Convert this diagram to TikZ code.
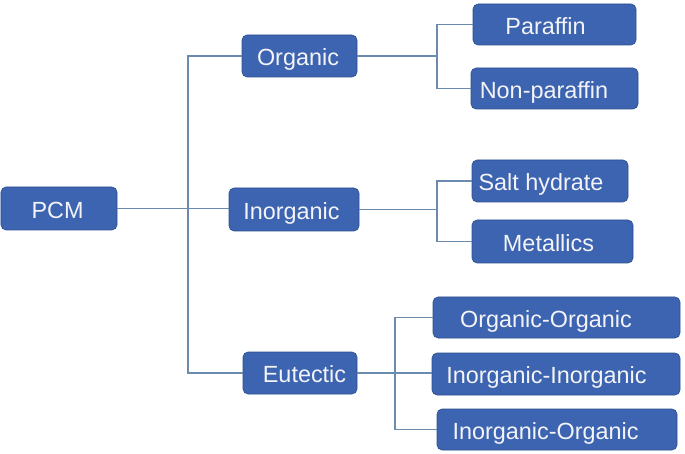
\documentclass[tikz,border=0pt]{standalone}
\usepackage{fontspec}
\setmainfont{Liberation Sans}
\definecolor{boxfill}{HTML}{3C64B0}
\definecolor{boxline}{HTML}{2E4F8E}
\definecolor{connline}{HTML}{6A8AB0}
\definecolor{txt}{HTML}{F4F4F8}
\newcommand\tx[2]{\makebox[0pt]{\kern#1bp\kern#1bp #2}}
\tikzset{
  box/.style={draw=boxline, line width=0.6bp, fill=boxfill, rounded corners=5bp,
    text=txt, inner sep=0pt, text height=19.8bp, text depth=0bp,
    font=\fontsize{23.4bp}{28bp}\selectfont},
  conn/.style={draw=connline, line width=1.4bp}
}
\begin{document}
\begin{tikzpicture}[x=1bp,y=-1bp]
\useasboundingbox (0,0) rectangle (685,454);
% branch points
\coordinate (tr) at (188,209);
\coordinate (b1) at (437,56);
\coordinate (b2) at (437,209.5);
\coordinate (b3) at (395,373);
% nodes
\node[box, minimum width=116bp, minimum height=43bp] (pcm) at (59,208.5) {\tx{-1.5}{PCM}};
\node[box, minimum width=115bp, minimum height=42bp] (org) at (299.5,56) {\tx{-1.5}{Organic}};
\node[box, minimum width=130bp, minimum height=43bp] (inorg) at (294,209.5) {\tx{-2.5}{Inorganic}};
\node[box, minimum width=114bp, minimum height=42bp] (eut) at (300,373) {\tx{4.5}{Eutectic}};
\node[box, minimum width=163bp, minimum height=41bp] (par) at (554.5,24.5) {\tx{-9}{Paraffin}};
\node[box, minimum width=167bp, minimum height=41bp] (npar) at (554.5,88.5) {\tx{-10.5}{Non-paraffin}};
\node[box, minimum width=156bp, minimum height=42bp] (salt) at (550,181) {\tx{-9}{Salt hydrate}};
\node[box, minimum width=161bp, minimum height=43bp] (met) at (552.5,241.5) {\tx{-4}{Metallics}};
\node[box, minimum width=247bp, minimum height=41bp] (oo) at (556.5,317.5) {\tx{-10.5}{Organic-Organic}};
\node[box, minimum width=248bp, minimum height=42bp] (ii) at (556,374) {\tx{-9.5}{Inorganic-Inorganic}};
\node[box, minimum width=240bp, minimum height=41bp] (io) at (557,429.5) {\tx{-11.5}{Inorganic-Organic}};
% connectors
\draw[conn] (pcm.east) -- (pcm.east -| inorg.west);
\draw[conn] (org.west) -| (tr) |- (eut.west);
\draw[conn] (org.east) -- (b1);
\draw[conn] (par.west) -| (b1) |- (npar.west);
\draw[conn] (inorg.east) -- (b2);
\draw[conn] (salt.west) -| (b2) |- (met.west);
\draw[conn] (eut.east) -- (b3);
\draw[conn] (b3) -- (b3 -| ii.west);
\draw[conn] (oo.west) -| (b3) |- (io.west);
\end{tikzpicture}
\end{document}
